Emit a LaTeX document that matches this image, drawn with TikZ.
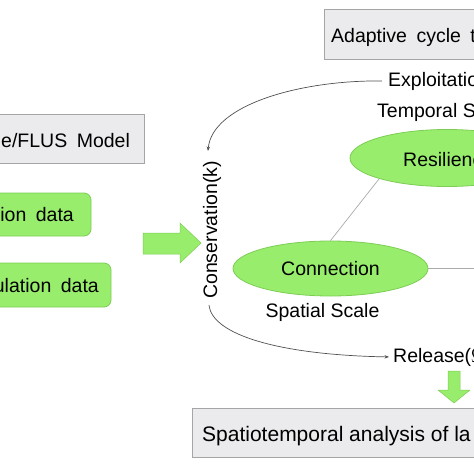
\documentclass[tikz,border=0pt]{standalone}
\usepackage{fontspec}
\setmainfont{Liberation Sans}
\newfontfamily\boxfont{Liberation Sans}[WordSpace=1.75]
\usepackage{xcolor}
\usetikzlibrary{arrows.meta,shapes.geometric}

\definecolor{leaf}{RGB}{152,238,108}
\definecolor{leafedge}{RGB}{125,205,85}
\definecolor{panel}{RGB}{235,235,237}
\definecolor{paneledge}{RGB}{165,165,165}
\definecolor{curve}{RGB}{80,80,80}
\definecolor{link}{RGB}{170,170,170}

\tikzset{
  panelbox/.style={fill=panel,draw=paneledge,line width=0.8pt},
  leafbox/.style={fill=leaf,draw=leafedge,line width=0.8pt,rounded corners=7pt},
  boxtext/.style={inner sep=0pt,font=\boxfont\fontsize{19.5}{23}\selectfont},
  phase/.style={ellipse,fill=leaf,draw=leafedge,line width=0.8pt,inner sep=0pt},
  label/.style={inner sep=6pt},
  fatarrow/.style={fill=leaf,draw=leafedge,line width=0.5pt},
  cycle arrow/.style={draw=curve,line width=0.7pt,-{Stealth[length=4.5pt,width=3.5pt]}}
}

\begin{document}
\begin{tikzpicture}[x=1pt,y=-1pt,font=\fontsize{19.5}{23}\selectfont]
  \useasboundingbox (0,0) rectangle (474,474);
  \clip (0,0) rectangle (474,474);

  % boxes on the left
  \draw[panelbox] (-20,114) rectangle (144,163);
  \node[boxtext,anchor=base west] (model) at (1,147) {e/FLUS Model};
  \draw[leafbox] (-20,193) rectangle (91,236);
  \node[boxtext,anchor=base east] (data1) at (74,221) {tion data};
  \draw[leafbox] (-20,263) rectangle (111,307);
  \node[boxtext,anchor=base east] (data2) at (99,292) {ulation data};
  \draw[fatarrow] (143,233) -- (180,233) -- (180,223) -- (201,243) -- (180,263)
    -- (180,254) -- (143,254) -- cycle;

  % adaptive cycle
  \draw[panelbox] (324,9) rectangle (500,59);
  \node[boxtext,anchor=base west] (adapt) at (331,42) {Adaptive cycle t};
  \node[label,anchor=base west] (expl) at (382,86) {Exploitatio};
  \node[label,anchor=base west] (temp) at (371,117) {Temporal S};
  \node[phase,minimum width=194pt,minimum height=57pt] (resil) at (447,158) {};
  \node[anchor=base west,inner sep=0pt] (resiltxt) at (403,166) {Resilienc};
  \node[phase,minimum width=195pt,minimum height=55pt] (conn) at (330.5,268.5) {Connection};
  \node[label,anchor=base] (spat) at (322.5,317) {Spatial Scale};
  \node[label,rotate=90,anchor=base west] (cons) at (217,305) {Conservation(k)};
  \node[label,anchor=base west] (rel) at (387,362) {Release($\Omega$};
  \coordinate (ktop) at (208,151);
  \coordinate (rhs) at (490,268.5);

  \draw[link,line width=0.7pt] (resil.197) -- (conn.north);
  \draw[link,line width=0.7pt] (conn.east) -- (rhs);
  \draw[cycle arrow] (expl.west) .. controls (300,80) and (212,105) .. (ktop);
  \draw[cycle arrow] ([xshift=-3pt]cons.west) .. controls (212,335) and (280,355) .. ([xshift=2pt]rel.west);

  % result
  \draw[fatarrow] (448,371) -- (460,371) -- (460,390) -- (470,390) -- (454,403)
    -- (438,390) -- (448,390) -- cycle;
  \draw[panelbox] (192,408) rectangle (500,457);
  \node[inner sep=0pt,font=\fontsize{21}{25}\selectfont,anchor=base west] (result) at (202,441) {Spatiotemporal analysis of la};
\end{tikzpicture}
\end{document}
